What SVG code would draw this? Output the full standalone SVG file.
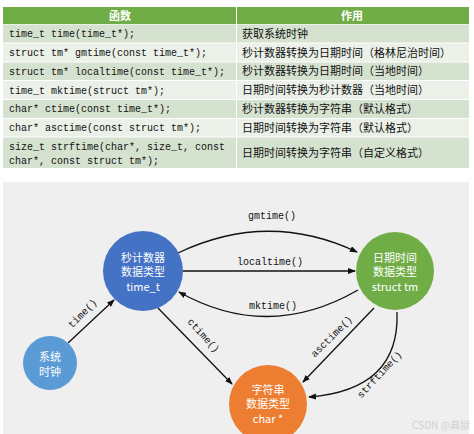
<svg xmlns="http://www.w3.org/2000/svg" width="474" height="434" viewBox="0 0 474 434">
<style>
.code{font-family:"Liberation Mono","DejaVu Sans Mono",monospace;font-size:10px;fill:#111}
.cn{font-family:"Noto Sans CJK SC","Noto Sans",sans-serif;font-size:11px;fill:#111}
.hd{font-family:"Noto Sans CJK SC","Noto Sans",sans-serif;font-size:11px;fill:#fff;font-weight:bold;text-anchor:middle}
.dark{fill:#d6e2d0}
.light{fill:#ebf0e8}
.nt{font-family:"Noto Sans CJK SC","Noto Sans",sans-serif;font-size:11px;fill:#fff;text-anchor:middle;dominant-baseline:central}
.el{font-family:"Liberation Mono","DejaVu Sans Mono",monospace;font-size:10px;fill:#111;text-anchor:middle;dominant-baseline:central}
.edge{fill:none;stroke:#111;stroke-width:1.3;marker-end:url(#arr)}
</style>
<defs>
<marker id="arr" markerUnits="userSpaceOnUse" markerWidth="8" markerHeight="6" refX="7" refY="3" orient="auto">
<path d="M0,0 L8,3 L0,6 Z" fill="#111"/>
</marker>
</defs>
<rect width="474" height="434" fill="#fff"/>
<g id="table">
<rect x="3" y="7" width="466" height="17" fill="#70ad47"/>
<rect x="3" y="24.5" width="466" height="18" class="dark"/>
<rect x="3" y="43.5" width="466" height="18" class="light"/>
<rect x="3" y="62.5" width="466" height="17.5" class="dark"/>
<rect x="3" y="81" width="466" height="18" class="light"/>
<rect x="3" y="100" width="466" height="18" class="dark"/>
<rect x="3" y="119" width="466" height="17.5" class="light"/>
<rect x="3" y="137.5" width="466" height="30.5" class="dark"/>
<line x1="236.5" y1="7" x2="236.5" y2="168" stroke="#fff" stroke-width="1"/>
<text class="hd" x="120" y="19.5">函数</text>
<text class="hd" x="352" y="19.5">作用</text>
<text class="code" x="9" y="37">time_t time(time_t*);</text>
<text class="code" x="9" y="56">struct tm* gmtime(const time_t*);</text>
<text class="code" x="9" y="74.5">struct tm* localtime(const time_t*);</text>
<text class="code" x="9" y="93.5">time_t mktime(struct tm*);</text>
<text class="code" x="9" y="112">char* ctime(const time_t*);</text>
<text class="code" x="9" y="131">char* asctime(const struct tm*);</text>
<text class="code" x="9" y="150">size_t strftime(char*, size_t, const</text>
<text class="code" x="9" y="163.5">char*, const struct tm*);</text>
<text class="cn" x="242" y="37.5">获取系统时钟</text>
<text class="cn" x="242" y="56.5">秒计数器转换为日期时间（格林尼治时间）</text>
<text class="cn" x="242" y="75">秒计数器转换为日期时间（当地时间）</text>
<text class="cn" x="242" y="94">日期时间转换为秒计数器（当地时间）</text>
<text class="cn" x="242" y="112.5">秒计数器转换为字符串（默认格式）</text>
<text class="cn" x="242" y="131.5">日期时间转换为字符串（默认格式）</text>
<text class="cn" x="242" y="157">日期时间转换为字符串（自定义格式）</text>
</g>
<rect x="3" y="182" width="466" height="252" fill="#efefef"/>
<g id="connectors">
<line class="edge" x1="68" y1="343" x2="114" y2="300"/>
<path class="edge" d="M178,253 Q268,210 357,252"/>
<line class="edge" x1="183" y1="271" x2="355" y2="271"/>
<path class="edge" d="M358,290 Q268,342 179,292"/>
<line class="edge" x1="158" y1="308" x2="232" y2="384"/>
<line class="edge" x1="374" y1="308" x2="303" y2="382"/>
<path class="edge" d="M397,312 Q400,390 309,397"/>
<text class="el" transform="translate(83,314) rotate(-45)">time()</text>
<text class="el" x="272" y="216">gmtime()</text>
<text class="el" x="270" y="262">localtime()</text>
<text class="el" x="273" y="306">mktime()</text>
<text class="el" transform="translate(203,336) rotate(48)">ctime()</text>
<text class="el" transform="translate(332,337) rotate(-45)">asctime()</text>
<text class="el" transform="translate(380,375) rotate(-47)">strftime()</text>
</g>
<g id="clock">
<circle cx="50" cy="363" r="27" fill="#5b9bd5"/>
<text class="nt" x="50" y="355.5">系统</text>
<text class="nt" x="50" y="371">时钟</text>
</g>
<g id="seconds">
<circle cx="143" cy="271" r="40" fill="#4472c4"/>
<text class="nt" x="143" y="256.5">秒计数器</text>
<text class="nt" x="143" y="271">数据类型</text>
<text class="nt" x="143" y="285.5">time_t</text>
</g>
<g id="datetime">
<circle cx="395" cy="271" r="39" fill="#70ad47"/>
<text class="nt" x="395" y="256.5">日期时间</text>
<text class="nt" x="395" y="271">数据类型</text>
<text class="nt" x="395" y="285.5">struct tm</text>
</g>
<g id="string">
<circle cx="268" cy="404" r="39" fill="#ed7d31"/>
<text class="nt" x="268" y="388.5">字符串</text>
<text class="nt" x="268" y="403">数据类型</text>
<text class="nt" x="268" y="417.5">char *</text>
</g>
<text x="470" y="429" text-anchor="end" style="font-family:'Noto Sans CJK SC','Noto Sans',sans-serif;font-size:10px;fill:#cfcfcf">CSDN @典狱</text>
</svg>
